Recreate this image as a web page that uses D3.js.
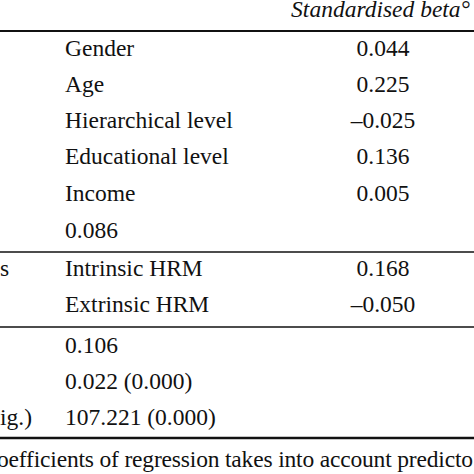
<!DOCTYPE html>
<html><head><meta charset="utf-8">
<script src="https://cdn.jsdelivr.net/npm/d3@7"></script>
<style>body{margin:0;background:#fff}</style>
</head><body>
<script>
// row labels / values
var labels = ["Gender", "Age", "Hierarchical level", "Educational level", "Income", "0.086",
              "Intrinsic HRM", "Extrinsic HRM", "0.106", "0.022 (0.000)", "107.221 (0.000)"];
var betas = ["0.044", "0.225", "\u20130.025", "0.136", "0.005", "", "0.168", "\u20130.050", "", "", ""];
var leftStubs = [null, null, null, null, null, null, "s", null, null, null, "ig.)"];
var rowY = [51, 87, 123, 159, 196, 233, 271, 307, 348, 384, 420];
var rules = [{y: 31, w: 2}, {y: 252, w: 1.5}, {y: 327, w: 1.5}, {y: 438, w: 2.5}];

var svg = d3.select("body").append("svg")
    .attr("width", 474).attr("height", 474)
    .style("font-family", "'Liberation Serif', 'Times New Roman', serif")
    .style("font-size", "23.5px")
    .style("fill", "#111");

svg.append("text")
    .attr("x", 470).attr("y", 12)
    .attr("dominant-baseline", "middle")
    .attr("text-anchor", "end")
    .style("font-style", "italic")
    .text("Standardised beta\u00b0");

svg.selectAll("line.rule").data(rules).enter().append("line")
    .attr("class", "rule")
    .attr("x1", 0).attr("x2", 474)
    .attr("y1", d => d.y).attr("y2", d => d.y)
    .style("stroke", "#111")
    .style("stroke-width", d => d.w);

var rows = svg.selectAll("g.row").data(labels).enter().append("g")
    .attr("transform", (d, i) => "translate(0," + rowY[i] + ")");

rows.append("text")
    .attr("x", 65)
    .attr("dominant-baseline", "middle")
    .text(d => d);

rows.append("text")
    .attr("x", 383)
    .attr("dominant-baseline", "middle")
    .attr("text-anchor", "middle")
    .text((d, i) => betas[i]);

rows.append("text")
    .attr("x", 0)
    .attr("dominant-baseline", "middle")
    .text((d, i) => leftStubs[i] || "");

svg.append("text")
    .attr("x", -3).attr("y", 462)
    .attr("dominant-baseline", "middle")
    .attr("textLength", 476)
    .text("oefficients of regression takes into account predicto");
</script>
</body></html>
